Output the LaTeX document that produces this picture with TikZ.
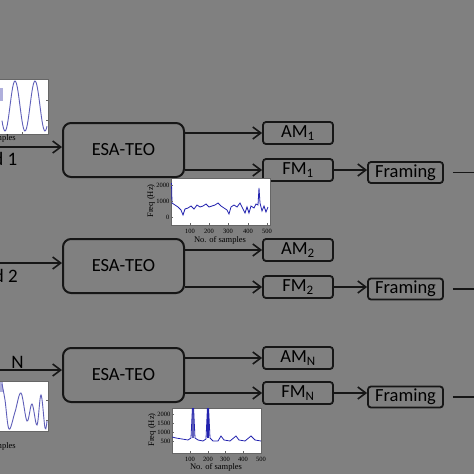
\documentclass[tikz,border=0pt]{standalone}
\usepackage{fontspec}
\setmainfont{Carlito}
\newfontfamily\plotfont{Liberation Serif}
\usetikzlibrary{arrows.meta}
\definecolor{bggray}{HTML}{808080}
\definecolor{ink}{HTML}{161616}
\definecolor{sigblue}{RGB}{35,35,175}
\definecolor{sigpale}{RGB}{95,95,185}

\tikzset{
  esabox/.style={draw=ink, line width=2pt, rounded corners=8pt, minimum width=121pt, minimum height=54pt, font=\fontsize{18.5}{20}\selectfont},
  sigbox/.style={draw=ink, line width=1.8pt, rounded corners=3pt, minimum width=70pt, minimum height=22pt, inner sep=0pt, font=\fontsize{18.5}{20}\selectfont},
  framebox/.style={sigbox, minimum width=75pt, minimum height=21pt},
  bandlbl/.style={inner sep=0pt, font=\fontsize{19}{20}\selectfont},
  link/.style={draw=ink, line width=1.6pt, -{Straight Barb[length=8pt,width=12pt,line width=1.6pt]}},
  wire/.style={draw=ink, line width=1.6pt},
  plotwin/.style={fill=white, draw=black!60, line width=0.6pt},
  ticklbl/.style={inner sep=0.5pt, font=\plotfont\fontsize{6.5}{7}\selectfont},
  axislbl/.style={inner sep=0pt, font=\plotfont\fontsize{8.5}{9}\selectfont},
}

\begin{document}
\begin{tikzpicture}[x=1pt, y=-1pt]
\useasboundingbox (0,0) rectangle (474,474);
\fill[bggray] (0,0) rectangle (474,474);

% input signal plots
\fill[plotwin] (-5,79) rectangle (48,134);
\fill[sigpale!50] (0,88) rectangle (2.5,101);
\draw[sigpale, line width=0.9pt] plot[domain=2:47, samples=60] (\x, {106-25*cos(18*(\x-15))});
\foreach \ty in {100,120} \draw[black!60, line width=0.5pt] (48,\ty) -- (46,\ty);
\draw[black!60, line width=0.5pt] (22,134) -- (22,132);
\node[axislbl, anchor=east] (samp1) at (16,138) {No. of samples};

\fill[plotwin] (-5,381) rectangle (48,431);
\fill[sigpale!50] (0,382) rectangle (2.5,392);
\draw[sigpale, line width=0.9pt] plot[smooth, tension=0.6] coordinates {(2,384) (5,400) (9,429) (15,412) (21,393) (27,421) (32,404) (37,425) (41,395) (45,428) (47,421)};
\foreach \ty in {400,420} \draw[black!60, line width=0.5pt] (48,\ty) -- (46,\ty);
\node[axislbl, anchor=east] (sampN) at (16,446) {No. of samples};

% band labels and inputs
\node[bandlbl, anchor=east] (lbl1) at (17.5,159) {Band 1};
\node[bandlbl, anchor=east] (lbl2) at (18,276) {Band 2};
\node[bandlbl] (lblN) at (17.5,362) {N};
\coordinate (in1) at (0,147);
\coordinate (in2) at (0,263);
\coordinate (inN) at (0,370);

% ESA-TEO blocks
\node[esabox] (esa1) at (123.5,150) {ESA-TEO};
\node[esabox] (esa2) at (123.5,266) {ESA-TEO};
\node[esabox] (esaN) at (123.5,375) {ESA-TEO};

% AM / FM outputs
\node[sigbox] (am1) at (298,133) {AM\textsubscript{1}};
\node[sigbox] (fm1) at (298,170) {FM\textsubscript{1}};
\node[sigbox] (am2) at (298,250) {AM\textsubscript{2}};
\node[sigbox] (fm2) at (298,287) {FM\textsubscript{2}};
\node[sigbox] (amN) at (298,358) {AM\textsubscript{N}};
\node[sigbox] (fmN) at (298,393) {FM\textsubscript{N}};

% framing
\node[framebox] (fr1) at (405.5,172.5) {Framing};
\node[framebox] (fr2) at (405.5,289) {Framing};
\node[framebox] (frN) at (405.5,397) {Framing};
\coordinate (out1) at (474,172.5);
\coordinate (out2) at (474,289);
\coordinate (outN) at (474,397);

\draw[link] (in1) -- (in1 -| esa1.west);
\draw[link] (in2) -- (in2 -| esa2.west);
\draw[link] (inN) -- (inN -| esaN.west);

\draw[link] (esa1.east |- am1.west) -- (am1.west);
\draw[link] (esa1.east |- fm1.west) -- (fm1.west);
\draw[link] (esa2.east |- am2.west) -- (am2.west);
\draw[link] (esa2.east |- fm2.west) -- (fm2.west);
\draw[link] (esaN.east |- amN.west) -- (amN.west);
\draw[link] (esaN.east |- fmN.west) -- (fmN.west);

\draw[link] (fm1.east) -- (fm1.east -| fr1.west);
\draw[link] (fm2.east) -- (fm2.east -| fr2.west);
\draw[link] (fmN.east) -- (fmN.east -| frN.west);

\draw[wire] ([xshift=9pt]fr1.east) -- (out1);
\draw[wire] ([xshift=9pt]fr2.east) -- (out2);
\draw[wire] ([xshift=9pt]frN.east) -- (outN);

% instantaneous frequency, band 1
\fill[plotwin] (171,178) rectangle (270,225);
\begin{scope}
\clip (171,178) rectangle (270,225);
\draw[sigblue, line width=0.8pt] plot coordinates {(171.5,183) (172,203) (175,205) (178,207) (181,210) (183,215) (185,209) (188,208) (191,206) (194,209) (197,205) (200,207) (203,206) (206,204) (209,207) (212,206) (215,205) (218,203) (221,206) (224,208) (227,210) (229,214) (231,207) (234,205) (237,207) (240,203) (243,209) (245,213) (247,207) (249,213) (251,206) (254,208) (256,204) (258,205) (259,188) (260,203) (262,211) (264,206) (266,212) (268,207)};
\end{scope}
\foreach \tx/\tl in {190/100,209/200,228/300,248/400,267/500} {
  \draw[black!60, line width=0.5pt] (\tx,225) -- (\tx,223);
  \node[ticklbl] at (\tx,231) {\tl};
}
\foreach \ty/\tl in {185/2000,201/1000,217/0} {
  \draw[black!60, line width=0.5pt] (171,\ty) -- (173,\ty);
  \node[ticklbl, anchor=east] at (170,\ty) {\tl};
}
\node[axislbl, rotate=90] (freq1) at (151,201) {Freq (Hz)};
\node[axislbl] (samp2) at (220,240) {No. of samples};

% instantaneous frequency, band N
\fill[plotwin] (172,408) rectangle (261,453);
\begin{scope}
\clip (172,408) rectangle (261,453);
\draw[sigpale, line width=1.6pt] (193,438) -- (193,407);
\draw[sigblue, line width=0.8pt] plot coordinates {(172,437) (176,438) (182,439) (188,440) (191,438) (192.5,406) (193.5,406) (195,438) (198,440) (203,441) (206,439) (207.5,406) (208.5,406) (210,438) (213,441) (218,441) (221,436) (224,440) (230,441) (236,436) (239,440) (245,441) (251,436) (255,440) (261,441)};
\draw[sigblue, line width=1.6pt] (208,438) -- (208,407);
\end{scope}
\foreach \tx/\tl in {190/100,208/200,225/300,243/400,261/500} {
  \draw[black!60, line width=0.5pt] (\tx,453) -- (\tx,451);
  \node[ticklbl] at (\tx,459) {\tl};
}
\foreach \ty/\tl in {414/2000,423/1500,432/1000,441/500} {
  \draw[black!60, line width=0.5pt] (172,\ty) -- (174,\ty);
  \node[ticklbl, anchor=east] at (171,\ty) {\tl};
}
\node[axislbl, rotate=90] (freqN) at (152,430) {Freq (Hz)};
\node[axislbl] (samp3) at (216,467) {No. of samples};
\end{tikzpicture}
\end{document}
